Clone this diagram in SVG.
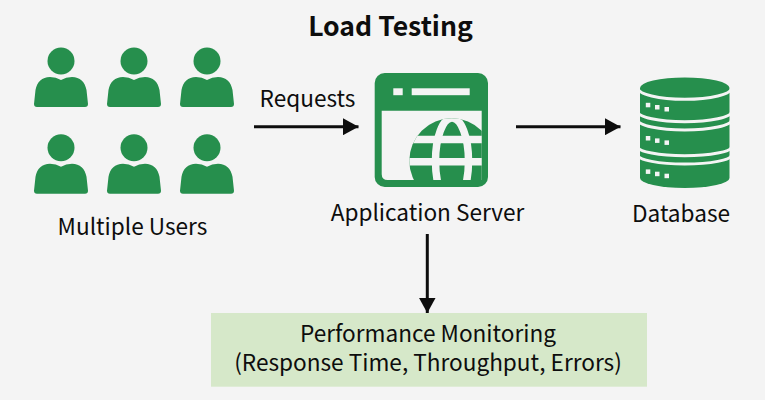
<svg xmlns="http://www.w3.org/2000/svg" width="765" height="400" viewBox="0 0 765 400">
<style>
text{font-family:"Noto Sans CJK SC","Noto Sans",sans-serif;fill:#0d0d0d;font-size:22.6px;text-anchor:middle}
.title{font-size:26.6px;font-weight:700}
.g{fill:#268f4d}
.w{fill:#f4f4f4}
.arc{fill:none;stroke:#f4f4f4;stroke-width:3}
.band{fill:none;stroke:#f4f4f4;stroke-width:7.5}
.conn{fill:none;stroke:#0d0d0d;stroke-width:3}
</style>
<defs>
<g id="person" class="g">
<circle cx="0" cy="0" r="13.5"/>
<path d="M-27,43Q-27,46 -24,46H24Q27,46 27,43L25.5,29C24,21 19,16 11,16Q5,16 0,19Q-5,16 -11,16C-19,16 -24,21 -25.5,29Z"/>
</g>
<clipPath id="inner"><rect x="381.7" y="110.7" width="100" height="69.3"/></clipPath>
<clipPath id="globe"><circle cx="451.7" cy="160.7" r="42.4"/></clipPath>
<marker id="ah" markerUnits="userSpaceOnUse" markerWidth="16" markerHeight="17" refX="15.5" refY="8.5" orient="auto"><path d="M0,0L15.5,8.5L0,17Z" fill="#0d0d0d"/></marker>
</defs>
<rect width="765" height="400" fill="#f4f4f4"/>
<text class="title" x="390.5" y="36">Load Testing</text>
<g id="users">
<use href="#person" x="61" y="61"/>
<use href="#person" x="134" y="61"/>
<use href="#person" x="207" y="61"/>
<use href="#person" x="61" y="147.7"/>
<use href="#person" x="134" y="147.7"/>
<use href="#person" x="207" y="147.7"/>
<text x="132.5" y="234.5">Multiple Users</text>
</g>
<g id="server">
<rect class="g" x="374.7" y="73" width="113.3" height="114" rx="10"/>
<rect class="w" x="393.3" y="88.3" width="9.4" height="6.9"/>
<rect class="w" x="411.7" y="88.3" width="58" height="6.9"/>
<path class="w" d="M381.7,110.7H481.7V180H387.7Q381.7,180 381.7,174Z"/>
<g clip-path="url(#inner)">
<g clip-path="url(#globe)">
<rect class="g" x="405" y="115" width="90" height="90"/>
<path class="band" d="M405,139.5H495M405,161.7H495"/>
<ellipse class="band" cx="452" cy="161" rx="16.5" ry="43"/>
</g>
</g>
<text x="427.5" y="220.5">Application Server</text>
</g>
<g id="database">
<path class="g" d="M640,88A44.5,10.5 0 0 1 729.5,88V178A44.7,10 0 0 1 640,178Z"/>
<path class="arc" d="M638,88A46.7,11.3 0 0 0 731.5,88"/>
<path class="arc" d="M638,111.7A46.7,10 0 0 0 731.5,111.7"/>
<path class="arc" d="M638,120A46.7,10 0 0 0 731.5,120"/>
<path class="arc" d="M638,146.7A46.7,9 0 0 0 731.5,146.7"/>
<path class="arc" d="M638,155A46.7,9 0 0 0 731.5,155"/>
<g class="w">
<rect x="645.8" y="102.8" width="4.5" height="4.5"/><rect x="655" y="105" width="4.5" height="4.5"/><rect x="664.5" y="107" width="4.5" height="4.5"/>
<rect x="645.8" y="136" width="4.5" height="4.5"/><rect x="655" y="138.4" width="4.5" height="4.5"/><rect x="664.5" y="140.4" width="4.5" height="4.5"/>
<rect x="645.8" y="169.4" width="4.5" height="4.5"/><rect x="655" y="171.7" width="4.5" height="4.5"/><rect x="664.5" y="173.7" width="4.5" height="4.5"/>
</g>
<text x="681" y="221.5">Database</text>
</g>
<g id="monitoring">
<rect x="211" y="313" width="436" height="73.7" fill="#d6e8c9"/>
<text x="428" y="342">Performance Monitoring</text>
<text x="428" y="370.5">(Response Time, Throughput, Errors)</text>
</g>
<g id="connectors">
<path class="conn" d="M254,126.7H358.5" marker-end="url(#ah)"/>
<path class="conn" d="M516,126.7H620.5" marker-end="url(#ah)"/>
<path class="conn" d="M427.3,234V313" marker-end="url(#ah)"/>
<text x="307.5" y="107">Requests</text>
</g>
</svg>
